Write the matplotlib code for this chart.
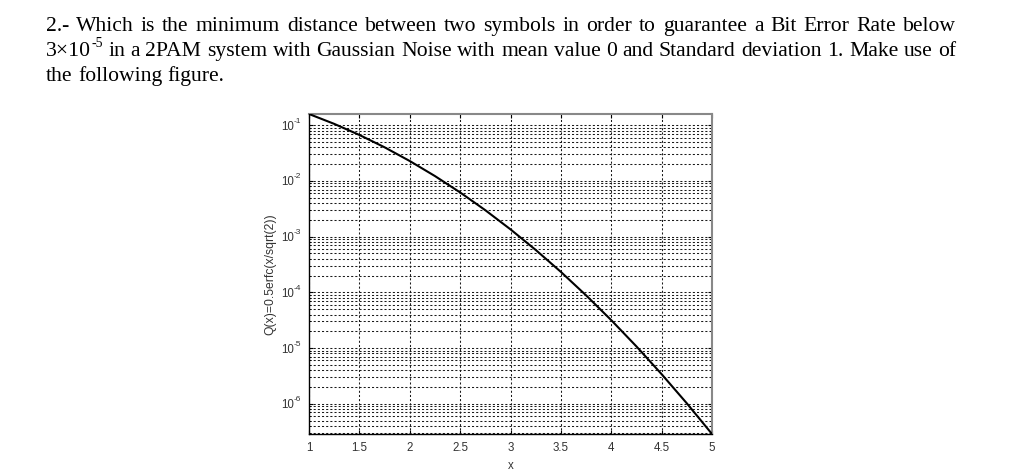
import numpy as np
import matplotlib
matplotlib.use("Agg")
import matplotlib.pyplot as plt
from matplotlib.ticker import FixedLocator, LogLocator, NullFormatter
from matplotlib.transforms import ScaledTranslation, blended_transform_factory

# values: Q(x) on a log scale
x_vals = [1.0, 1.25, 1.5, 1.75, 2.0, 2.25, 2.5, 2.75, 3.0,
          3.25, 3.5, 3.75, 4.0, 4.25, 4.5, 4.75, 5.0]
q_vals = [1.587e-1, 1.056e-1, 6.68e-2, 4.01e-2, 2.275e-2, 1.222e-2,
          6.21e-3, 2.98e-3, 1.35e-3, 5.77e-4, 2.33e-4, 8.84e-5,
          3.17e-5, 1.07e-5, 3.40e-6, 1.02e-6, 2.87e-7]
x_ticks = [1, 1.5, 2, 2.5, 3, 3.5, 4, 4.5, 5]
x_tick_labels = ["1", "1.5", "2", "2.5", "3", "3.5", "4", "4.5", "5"]
y_exponents = [-1, -2, -3, -4, -5, -6]

line1 = "2.- Which is the minimum distance between two symbols in order to guarantee a Bit Error Rate below"
line2 = "in a 2PAM system with Gaussian Noise with mean value 0 and Standard deviation 1. Make use of"
line3 = "the following figure."

W, H = 1024, 474
fig = plt.figure(figsize=(W / 100, H / 100), dpi=100)
renderer = fig.canvas.get_renderer()

SERIF = "Liberation Serif"
FS = 15.6
LEFT, RIGHT = 46, 956


def width_px(s, size):
    t = fig.text(0, 0, s, family=SERIF, fontsize=size)
    w = t.get_window_extent(renderer).width
    t.remove()
    return w


def put_line(words, base_y, justify):
    # words: list of lists of (text, size, rise_px)
    widths = [sum(width_px(s, fs) for s, fs, _ in w) for w in words]
    if justify:
        gap = (RIGHT - LEFT - sum(widths)) / (len(words) - 1)
    else:
        gap = width_px("a b", FS) - width_px("ab", FS)
    x = LEFT
    for w, wd in zip(words, widths):
        xx = x
        for s, fs, rise in w:
            fig.text(xx / W, 1 - (base_y - rise) / H, s, family=SERIF,
                     fontsize=fs, va="baseline", ha="left")
            xx += width_px(s, fs)
        x += wd + gap


put_line([[(w, FS, 0)] for w in line1.split()], 31, True)
put_line([[("3\u00d710", FS, 0), ("-5", 10, 9)]]
         + [[(w, FS, 0)] for w in line2.split()], 56, True)
put_line([[(w, FS, 0)] for w in line3.split()], 81, False)

ax = fig.add_axes([309 / W, 1 - 434 / H, 403 / W, 320 / H])
ax.semilogy(x_vals, q_vals, color="black", lw=1.5, zorder=3)
ax.set_xlim(x_vals[0], x_vals[-1])
ax.set_ylim(q_vals[-1], q_vals[0])

ax.set_xticks(x_ticks)
ax.set_xticklabels(x_tick_labels)
decades = [10.0 ** e for e in y_exponents]
ax.yaxis.set_major_locator(FixedLocator(decades))
ax.set_yticklabels(["10"] * len(decades))
ax.yaxis.set_minor_locator(LogLocator(base=10, subs=np.arange(2, 10), numticks=20))
ax.yaxis.set_minor_formatter(NullFormatter())

grid_kw = dict(color="#1a1a1a", ls=(0, (2, 2)), lw=0.75)
ax.grid(True, which="major", axis="x", **grid_kw)
ax.grid(True, which="both", axis="y", **grid_kw)

ax.tick_params(which="both", direction="in", top=True, right=True,
               labelsize=8.3, labelcolor="#333333", length=3)
ax.tick_params(axis="y", which="major", pad=11)
ax.tick_params(axis="x", pad=6)
ax.tick_params(which="minor", length=1.5)
for lab in ax.get_xticklabels() + ax.get_yticklabels():
    lab.set_family("Liberation Sans")

# exponents of the y tick labels
exp_tr = blended_transform_factory(ax.transAxes, ax.transData) + \
    ScaledTranslation(-15 / 100, 4 / 100, fig.dpi_scale_trans)
for e, d in zip(y_exponents, decades):
    ax.text(0, d, str(e), transform=exp_tr, family="Liberation Sans",
            fontsize=6, color="#333333", ha="left", va="center")

for side in ["left", "bottom"]:
    ax.spines[side].set_color("black")
    ax.spines[side].set_linewidth(1.0)
for side in ["right", "top"]:
    ax.spines[side].set_color("#888888")
    ax.spines[side].set_linewidth(1.5)

ax.set_xlabel("x", family="Liberation Sans", fontsize=8.3, color="#333333",
              labelpad=4)
ax.set_ylabel("Q(x)=0.5erfc(x/sqrt(2))", family="Liberation Sans",
              fontsize=8.7, color="#333333", labelpad=3)

fig.savefig("out.png", dpi=100)
